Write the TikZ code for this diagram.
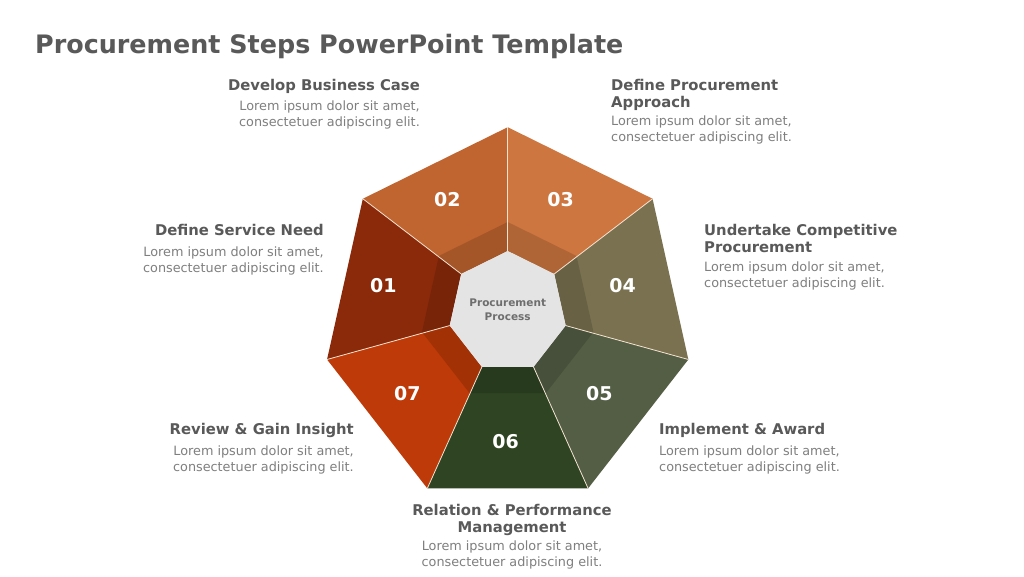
\documentclass[tikz,border=0pt]{standalone}
\usepackage{fontspec}
\setmainfont{DejaVu Sans}
\usetikzlibrary{positioning}
\definecolor{segA}{RGB}{139,42,10}
\definecolor{segB}{RGB}{192,101,48}
\definecolor{segC}{RGB}{206,118,64}
\definecolor{segD}{RGB}{122,113,80}
\definecolor{segE}{RGB}{83,94,69}
\definecolor{segF}{RGB}{46,68,34}
\definecolor{segG}{RGB}{190,58,8}
\definecolor{headgray}{RGB}{89,89,89}
\definecolor{bodygray}{RGB}{127,127,127}
\definecolor{hubgray}{RGB}{228,228,228}
\definecolor{divline}{RGB}{242,226,208}
\pgfdeclareradialshading{vignette}{\pgfpoint{0bp}{0bp}}{color(0bp)=(white); color(38bp)=(white); color(50bp)=(black!10); color(72bp)=(black!16)}
\tikzset{
  stephead/.style={inner sep=0pt,font=\fontsize{14.8}{17}\selectfont\bfseries,text=headgray},
  stepbody/.style={inner sep=0pt,font=\fontsize{12.8}{15.5}\selectfont,text=bodygray},
  stepnum/.style={inner sep=0pt,font=\fontsize{19}{19}\selectfont\bfseries,text=white},
  divider/.style={draw=divline,line width=.8pt}
}
\begin{document}
\begin{tikzpicture}[x=1pt,y=-1pt]
    \useasboundingbox (0,0) rectangle (1024,576);
    \shade[shading=vignette] (0,0) rectangle (1024,576);
    \node[anchor=base west,inner sep=0pt,font=\fontsize{25.4}{28}\selectfont\bfseries,text=headgray] (title) at (35,53) {Procurement Steps PowerPoint Template};
    % heptagon corners: outer, bevel, hub
    \foreach \k in {0,...,6}{
      \coordinate (o\k) at ({507.7+185.3*cos(90+\k*360/7)},{317.2-190*sin(90+\k*360/7)});
      \coordinate (m\k) at ({507.7+88*cos(90+\k*360/7)},{312-90*sin(90+\k*360/7)});
      \coordinate (i\k) at ({507.7+59.5*cos(90+\k*360/7)},{312-61*sin(90+\k*360/7)});
    }
    \foreach \k/\j/\col in {0/1/segB,1/2/segA,2/3/segG,3/4/segF,4/5/segE,5/6/segD,6/0/segC}{
      \fill[\col] (o\k)--(o\j)--(i\j)--(i\k)--cycle;
    }
    \fill[black,opacity=.14] (m0)--(m1)--(m2)--(m3)--(m4)--(m5)--(m6)--cycle;
    \foreach \k in {0,...,6}{\draw[divider] (o\k)--(i\k);}
    \fill[hubgray] (i0)--(i1)--(i2)--(i3)--(i4)--(i5)--(i6)--cycle;
    \node[align=center,inner sep=0pt,font=\fontsize{10.5}{14}\selectfont\bfseries,text=black!57] (hub) at (507.7,310) {Procurement\\Process};
    % step numbers
    \node[stepnum] (n01) at (383.3,285.7) {01};
    \node[stepnum] (n02) at (447.3,200) {02};
    \node[stepnum] (n03) at (560.7,200) {03};
    \node[stepnum] (n04) at (622.7,285.7) {04};
    \node[stepnum] (n05) at (599.3,394) {05};
    \node[stepnum] (n06) at (505.7,441.7) {06};
    \node[stepnum] (n07) at (407.3,394) {07};
    % step texts (base = last line)
    \node[stephead,anchor=base east] (h02) at (420,90.4) {Develop Business Case};
    \node[stepbody,anchor=base east,align=right] (t02) at (420,126) {Lorem ipsum dolor sit amet,\\consectetuer adipiscing elit.};
    \node[stephead,anchor=base west,align=left] (h03) at (611,107.4) {Define Procurement\\Approach};
    \node[stepbody,anchor=base west,align=left] (t03) at (611,141) {Lorem ipsum dolor sit amet,\\consectetuer adipiscing elit.};
    \node[stephead,anchor=base east] (h01) at (324,235.4) {Define Service Need};
    \node[stepbody,anchor=base east,align=right] (t01) at (324,272) {Lorem ipsum dolor sit amet,\\consectetuer adipiscing elit.};
    \node[stephead,anchor=base west,align=left] (h04) at (704,252.4) {Undertake Competitive\\Procurement};
    \node[stepbody,anchor=base west,align=left] (t04) at (704,287) {Lorem ipsum dolor sit amet,\\consectetuer adipiscing elit.};
    \node[stephead,anchor=base east] (h07) at (354,434.4) {Review \& Gain Insight};
    \node[stepbody,anchor=base east,align=right] (t07) at (354,471) {Lorem ipsum dolor sit amet,\\consectetuer adipiscing elit.};
    \node[stephead,anchor=base west] (h05) at (659,434.4) {Implement \& Award};
    \node[stepbody,anchor=base west,align=left] (t05) at (659,471) {Lorem ipsum dolor sit amet,\\consectetuer adipiscing elit.};
    \node[stephead,anchor=base,align=center] (h06) at (512,532.4) {Relation \& Performance\\Management};
    \node[stepbody,anchor=base,align=center] (t06) at (512,566) {Lorem ipsum dolor sit amet,\\consectetuer adipiscing elit.};
  \end{tikzpicture}
\end{document}
